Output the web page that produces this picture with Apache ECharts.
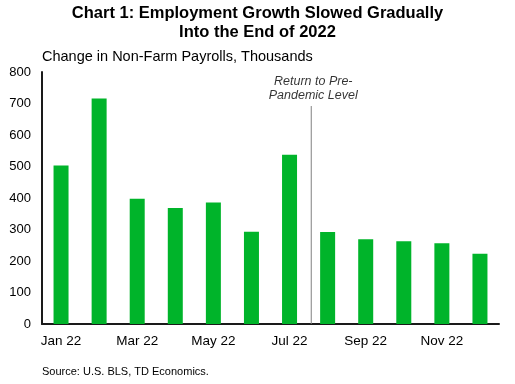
<!DOCTYPE html>
<html><head><meta charset="utf-8">
<script src="https://cdn.jsdelivr.net/npm/echarts@6/dist/echarts.min.js"></script>
<style>html,body{margin:0;padding:0;background:#fff}#c{width:515px;height:384px}</style>
</head><body><div id="c"></div>
<script>
const categories = ['Jan 22','Feb 22','Mar 22','Apr 22','May 22','Jun 22','Jul 22','Aug 22','Sep 22','Oct 22','Nov 22','Dec 22'];
const payrolls = [503, 716, 398, 368, 386, 293, 537, 292, 269, 263, 256, 223];
const yTicks = [0, 100, 200, 300, 400, 500, 600, 700, 800];
const markerPos = 6.57;
const markerTop = 692;
const markerLabel = 'Return to Pre-\nPandemic Level';

const F = 'Liberation Sans, Arial, sans-serif';
const chart = echarts.init(document.getElementById('c'), null, {renderer: 'canvas'});
chart.setOption({
  animation: false,
  title: [
    {text: 'Chart 1: Employment Growth Slowed Gradually\nInto the End of 2022', left: 257.5, top: 3.5, textAlign: 'center', padding: 0,
     textStyle: {fontFamily: F, fontSize: 16.5, fontWeight: 'bold', color: '#000', lineHeight: 19.5}},
    {text: 'Change in Non-Farm Payrolls, Thousands', left: 42, top: 49.5, padding: 0,
     textStyle: {fontFamily: F, fontSize: 14.5, fontWeight: 'normal', color: '#000'}},
    {text: 'Source: U.S. BLS, TD Economics.', left: 42, top: 366, padding: 0,
     textStyle: {fontFamily: F, fontSize: 11, fontWeight: 'normal', color: '#000'}}
  ],
  grid: {left: 42, right: 16, top: 72, bottom: 60, containLabel: false},
  xAxis: [
    {type: 'category', data: categories,
     axisLine: {lineStyle: {color: '#1a1a1a', width: 2}},
     axisTick: {show: false},
     axisLabel: {interval: 1, color: '#000', fontFamily: F, fontSize: 13.5, margin: 10}},
    {type: 'value', min: -0.5, max: 11.5, show: false}
  ],
  yAxis: {type: 'value', min: yTicks[0], max: yTicks[yTicks.length-1], interval: 100,
    axisLine: {show: true, onZero: false, lineStyle: {color: '#1a1a1a', width: 2}},
    axisTick: {show: false}, splitLine: {show: false},
    axisLabel: {color: '#000', fontFamily: F, fontSize: 13, margin: 11}},
  series: [
    {type: 'bar', data: payrolls, barWidth: 15, itemStyle: {color: '#00B42A'}, z: 2},
    {type: 'line', xAxisIndex: 1, data: [[markerPos, 0], [markerPos, markerTop]], symbol: 'none',
     lineStyle: {color: '#808080', width: 1}, z: 3},
    {type: 'scatter', xAxisIndex: 1, data: [[markerPos, markerTop]], symbolSize: 0,
     label: {show: true, position: 'top', distance: 4, offset: [2, 0], formatter: markerLabel, fontFamily: F, fontStyle: 'italic',
       fontSize: 12.5, color: '#000', lineHeight: 13.5, align: 'center'}}
  ]
});
</script></body></html>
